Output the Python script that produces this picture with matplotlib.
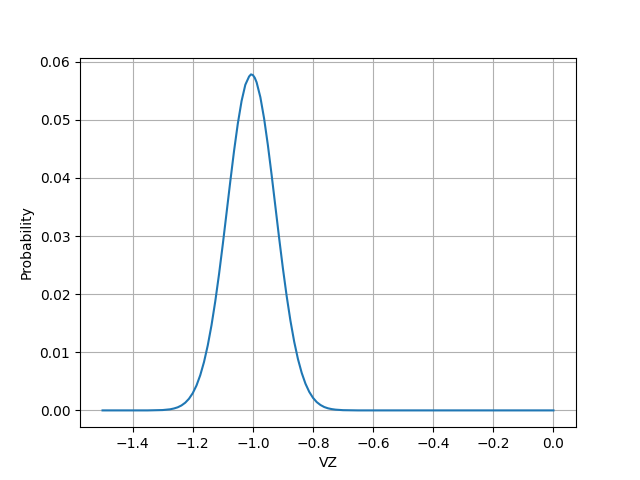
import matplotlib
matplotlib.use('Agg')
import matplotlib.pyplot as plt

# values
vz = [-1.5, -1.4, -1.35, -1.3, -1.275, -1.2625, -1.25, -1.2375, -1.225,
      -1.2125, -1.2, -1.1875, -1.175, -1.1625, -1.15, -1.1375, -1.125,
      -1.1125, -1.1, -1.0875, -1.075, -1.0625, -1.05, -1.0375, -1.025,
      -1.0125, -1.00625, -1.0, -0.99375, -0.9875, -0.975, -0.9625, -0.95,
      -0.9375, -0.925, -0.9125, -0.9, -0.8875, -0.875, -0.8625, -0.85,
      -0.8375, -0.825, -0.8125, -0.8, -0.7875, -0.775, -0.7625, -0.75,
      -0.7375, -0.725, -0.7, -0.65, -0.6, -0.5, -0.4, -0.3, -0.2, -0.1, 0.0]
prob = [0.0, 0.0, 0.0, 0.00006, 0.00019, 0.00033, 0.00053, 0.00085, 0.00132,
        0.00200, 0.00296, 0.00428, 0.00605, 0.00832, 0.01118, 0.01466,
        0.01877, 0.02343, 0.02856, 0.03396, 0.03941, 0.04465, 0.04934,
        0.05322, 0.05602, 0.05744, 0.05780, 0.05769, 0.05723, 0.05644,
        0.05388, 0.05019, 0.04563, 0.04049, 0.03506, 0.02962, 0.02443,
        0.01966, 0.01544, 0.01183, 0.00884, 0.00646, 0.00460, 0.00320,
        0.00217, 0.00143, 0.00093, 0.00058, 0.00036, 0.00022, 0.00013,
        0.00004, 0.0, 0.0, 0.0, 0.0, 0.0, 0.0, 0.0, 0.0]

plt.figure(figsize=(6.4, 4.8), dpi=100)
plt.plot(vz, prob)
plt.xlabel('VZ')
plt.ylabel('Probability')
plt.grid()
plt.savefig('out.png')
